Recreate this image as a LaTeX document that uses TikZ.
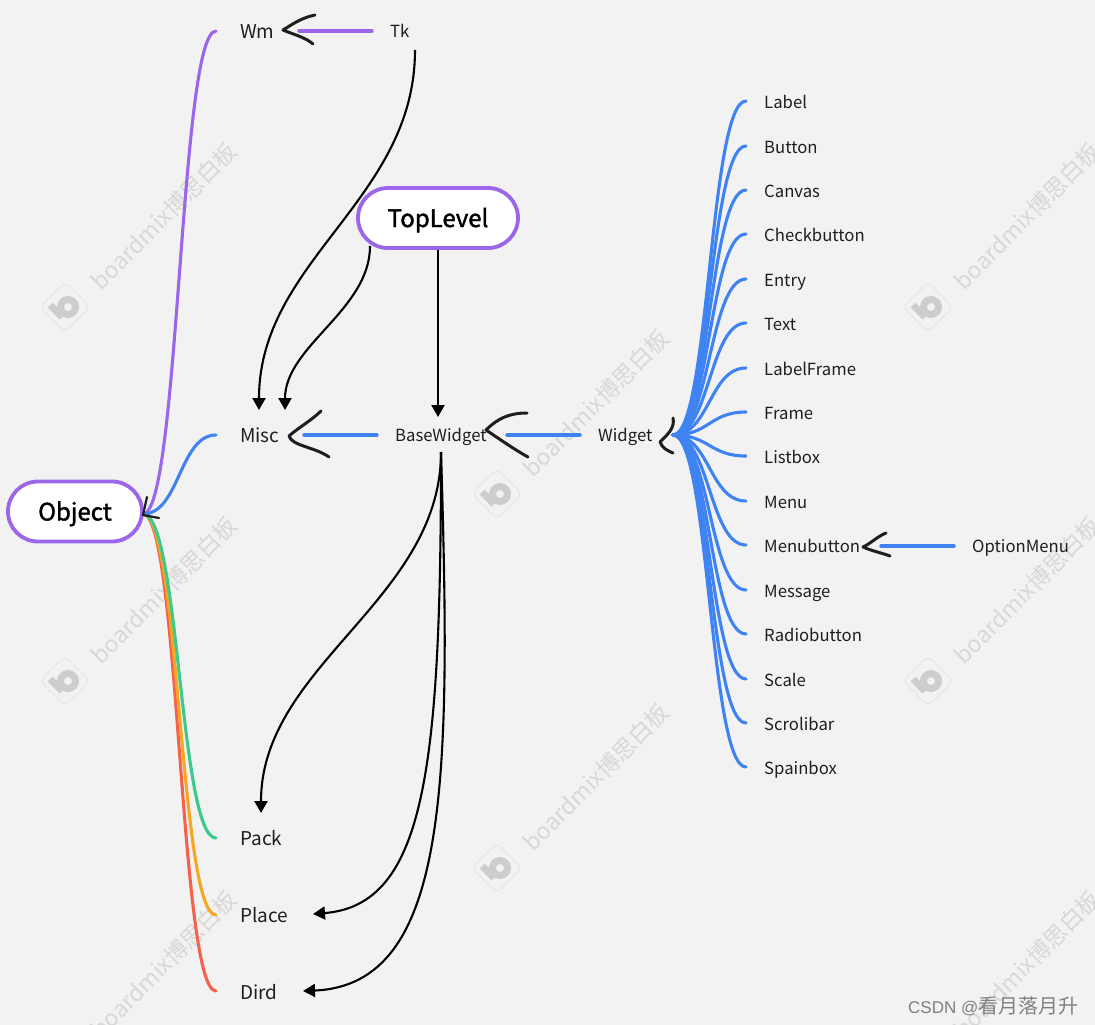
\documentclass[tikz,border=0pt]{standalone}
\usepackage{fontspec}
\setmainfont{Noto Sans CJK SC}
\newfontfamily\heavyfont[FakeBold=1.6]{Noto Sans CJK SC}
\newfontfamily\csdnfont{Liberation Sans}
\newfontfamily\csdncjk{Noto Sans CJK SC}
\usetikzlibrary{arrows.meta}
\definecolor{bgc}{HTML}{F2F2F2}
\definecolor{purp}{HTML}{9B66E9}
\definecolor{blu}{HTML}{3F82F2}
\definecolor{grn}{HTML}{3CC98B}
\definecolor{org}{HTML}{F5A623}
\definecolor{redd}{HTML}{F4624C}
\definecolor{wmc}{HTML}{D8D8D8}
\definecolor{ink}{HTML}{1E1E1E}
\tikzset{
  pill/.style={draw=purp,line width=3.8pt,fill=white,rounded corners=30pt,text=black,font=\heavyfont\fontsize{24}{24}\selectfont,inner sep=0pt,anchor=center,text height=18pt,text depth=0pt},
  fanlabel/.style={anchor=west,inner sep=0pt,text=ink,font=\fontsize{16.7}{18}\selectfont,text height=12pt,text depth=0pt},
  mainlabel/.style={anchor=west,inner sep=0pt,text=ink,font=\fontsize{19}{20}\selectfont,text height=14pt,text depth=0pt},
  branch/.style={line width=3.1pt,line cap=round},
  link/.style={line width=3.4pt,line cap=round},
  flow/.style={draw=black,line width=2.1pt,-{Triangle[length=12pt,width=13pt]}},
  scribble/.style={draw=ink,line width=3pt,line cap=round,line join=round},
  wmtext/.style={text=wmc,font=\fontsize{23}{25}\selectfont,rotate=45,anchor=west,inner sep=0pt},
}
\begin{document}
\begin{tikzpicture}[x=1pt,y=-1pt]
\useasboundingbox (0,0) rectangle (1095,1025);
\fill[bgc] (0,0) rectangle (1095,1025);
% watermarks
\foreach \i/\wx/\wy in {1/65/307,2/928/307,3/497/494,4/65/681,5/928/681,6/497/868,7/65/1055,8/928/1055}{
  \begin{scope}[shift={(\wx,\wy)}]
    \draw[wmc!50!bgc,line width=1pt,rounded corners=6pt] (0,-25) -- (25,0) -- (0,25) -- (-25,0) -- cycle;
    \draw[wmc!95!black,line width=7pt] (-15,-2) -- (-3,10);
    \draw[wmc!95!black,line width=7pt] (3,0) circle[radius=7.5pt];
    \node[wmtext] (wm\i) at (30,-22) {boardmix博思白板};
  \end{scope}
}
% nodes
\node[pill,minimum width=134pt,minimum height=60pt] (object) at (75,511.5) {Object};
\node[pill,minimum width=160pt,minimum height=60pt] (toplevel) at (438,218) {TopLevel};
\node[mainlabel] (wm) at (240,32) {Wm};
\node[fanlabel] (tk) at (390,32) {Tk};
\node[mainlabel] (misc) at (240,435) {Misc};
\node[fanlabel] (basewidget) at (395,435) {BaseWidget};
\node[fanlabel] (widget) at (598,435) {Widget};
\node[mainlabel] (pack) at (240,838) {Pack};
\node[mainlabel] (place) at (240,915) {Place};
\node[mainlabel] (dird) at (240,992) {Dird};
\node[fanlabel] (optionmenu) at (972,546) {OptionMenu};
\foreach \n/\ly in {Label/102,Button/147,Canvas/191,Checkbutton/235,Entry/280,Text/324,LabelFrame/369,Frame/413,Listbox/457,Menu/502,Menubutton/546,Message/591,Radiobutton/635,Scale/680,Scrolibar/724,Spainbox/768}{
  \node[fanlabel] (\n) at (764,\ly) {\n};
  \coordinate (\n-in) at (746,\ly-1);
  \draw[branch,blu] (673,435) .. controls (709.5,435) and (709.5,\ly-1) .. (\n-in);
}
% hubs and end points
\coordinate (hub) at (143,514);
\coordinate (wm-in) at (216,31);
\coordinate (misc-in) at (216,435);
\coordinate (pack-in) at (216,838);
\coordinate (place-in) at (216,915);
\coordinate (dird-in) at (216,991);
% branches from Object
\draw[branch,redd] (hub) .. controls (179.5,514) and (179.5,991) .. (dird-in);
\draw[branch,org] (hub) .. controls (179.5,514) and (179.5,915) .. (place-in);
\draw[branch,grn] (hub) .. controls (179.5,514) and (179.5,838) .. (pack-in);
\draw[branch,purp] (hub) .. controls (179.5,514) and (179.5,31) .. (wm-in);
\draw[branch,blu] (hub) .. controls (179.5,514) and (179.5,435) .. (misc-in);
% inheritance links
\coordinate (tk-l) at (372,31);
\coordinate (wm-r) at (299,31);
\coordinate (bw-l) at (377,435);
\coordinate (misc-r) at (304,435);
\coordinate (wd-l) at (580,435);
\coordinate (bw-r) at (507,435);
\coordinate (om-l) at (954,546);
\coordinate (mb-r) at (881,546);
\draw[link,purp] (tk-l) -- (wm-r);
\draw[link,blu] (bw-l) -- (misc-r);
\draw[link,blu] (wd-l) -- (bw-r);
\draw[link,blu] (om-l) -- (mb-r);
% black flows
\coordinate (tk-s) at (415,50);
\coordinate (misc-a) at (259,410);
\coordinate (misc-b) at (285,410);
\coordinate (tl-a) at (370,246);
\coordinate (tl-b) at (438,250);
\coordinate (bw-t) at (438,417);
\coordinate (bw-s) at (441,452);
\coordinate (pack-t) at (261,813);
\coordinate (place-t) at (313,914);
\coordinate (dird-t) at (303,991);
\draw[flow] (tk-s) .. controls (415,200) and (259,260) .. (misc-a);
\draw[flow] (tl-a) .. controls (370,310) and (285,346) .. (misc-b);
\draw[flow] (tl-b) -- (bw-t);
\draw[flow] (bw-s) .. controls (441,600) and (261,665) .. (pack-t);
\draw[flow] (bw-s) .. controls (441,770) and (425,905) .. (place-t);
\draw[flow] (bw-s) .. controls (451,780) and (450,985) .. (dird-t);
% hand-drawn marks
\draw[scribble] (315,15) .. controls (300,18) and (290,26) .. (283,30) .. controls (292,34) and (305,37) .. (313,44);
\draw[scribble] (321,411) .. controls (312,420) and (298,428) .. (289,436) .. controls (292,446) and (315,447) .. (329,457);
\draw[scribble] (527,413) .. controls (510,413) and (498,418) .. (486,430) .. controls (498,438) and (515,450) .. (528,457);
\draw[scribble] (673,418) .. controls (675,428) and (668,434) .. (660,442) .. controls (662,448) and (668,451) .. (673,453);
\draw[scribble] (886,533) .. controls (878,536) and (870,544) .. (863,547) .. controls (872,551) and (882,553) .. (890,556);
\draw[scribble,line width=2.2pt] (147,497) -- (143,515) -- (159,518);
% credit
\node[anchor=west,inner sep=0pt,text=black!50] (credit) at (908,1006) {{\csdnfont\fontsize{17}{18}\selectfont CSDN @}{\csdncjk\fontsize{20}{20}\selectfont 看月落月升}};
\end{tikzpicture}
\end{document}
